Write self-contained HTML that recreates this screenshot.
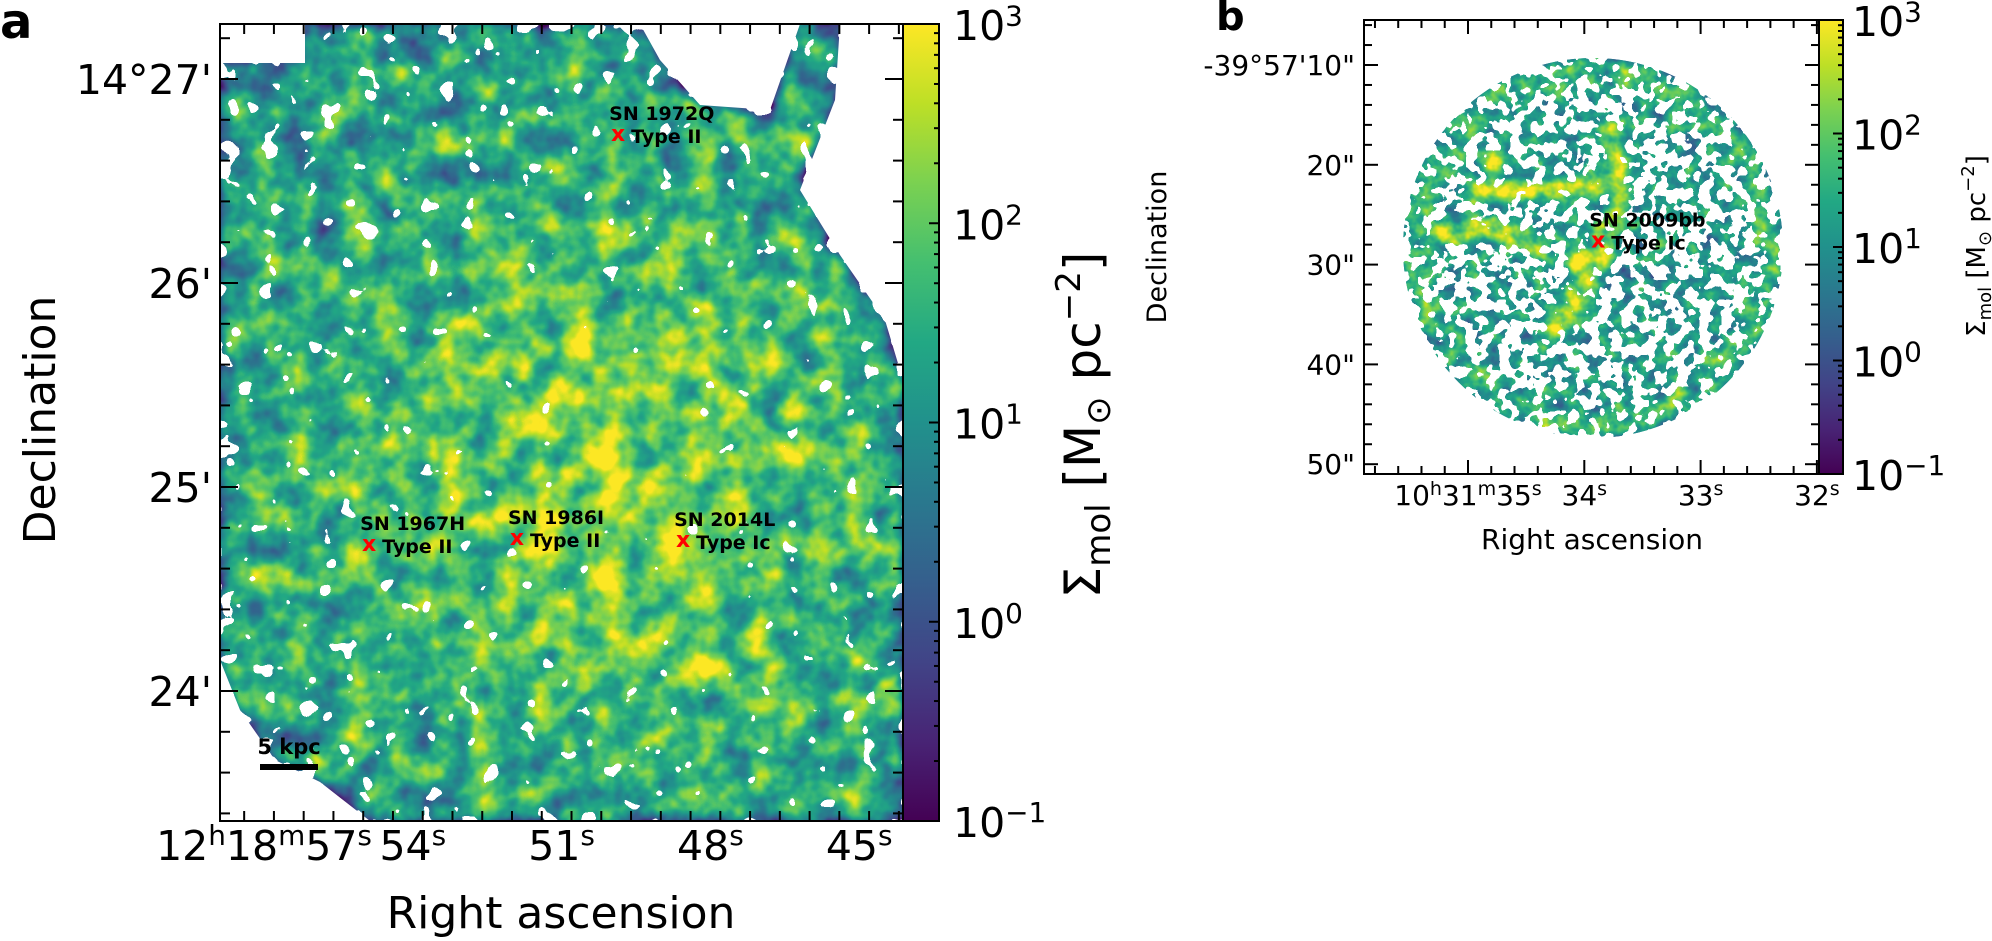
<!DOCTYPE html>
<html><head><meta charset="utf-8">
<style>
html,body{margin:0;padding:0;background:#fff;}
svg{display:block;font-family:"DejaVu Sans","Liberation Sans",sans-serif;}
.sn{font-weight:bold;font-size:19px;fill:#000;}
.mk{font-weight:bold;font-size:22px;fill:#ff0000;}
</style></head>
<body>
<svg id="fig" width="1992" height="941" viewBox="0 0 1992 941" xmlns="http://www.w3.org/2000/svg">
<defs>
  <radialGradient id="galdens" gradientUnits="userSpaceOnUse" cx="610" cy="478" r="560">
    <stop offset="0" stop-color="rgb(212,212,212)"/>
    <stop offset="0.25" stop-color="rgb(188,188,188)"/>
    <stop offset="0.6" stop-color="rgb(158,158,158)"/>
    <stop offset="1" stop-color="rgb(138,138,138)"/>
  </radialGradient>
  <linearGradient id="viridis" x1="0" y1="1" x2="0" y2="0">
    <stop offset="0" stop-color="#440154"/><stop offset="0.1" stop-color="#482475"/>
    <stop offset="0.2" stop-color="#414487"/><stop offset="0.3" stop-color="#355f8d"/>
    <stop offset="0.4" stop-color="#2a788e"/><stop offset="0.5" stop-color="#21918c"/>
    <stop offset="0.6" stop-color="#22a884"/><stop offset="0.7" stop-color="#44bf70"/>
    <stop offset="0.8" stop-color="#7ad151"/><stop offset="0.9" stop-color="#bddf26"/>
    <stop offset="1" stop-color="#fde725"/>
  </linearGradient>
  <filter id="fa" filterUnits="userSpaceOnUse" x="220" y="24" width="683" height="797" color-interpolation-filters="sRGB">
    <feGaussianBlur in="SourceGraphic" stdDeviation="6" result="d"/>
    <feTurbulence type="fractalNoise" baseFrequency="0.032" numOctaves="3" seed="4" result="t1"/>
    <feColorMatrix in="t1" type="matrix" values="1 0 0 0 0 1 0 0 0 0 1 0 0 0 0 0 0 0 0 1" result="n1"/>
    <feComposite in="n1" in2="d" operator="arithmetic" k1="0" k2="1.0" k3="1" k4="-0.5" result="v"/>
    <feColorMatrix in="v" type="matrix" values="1 0 0 0 0 1 0 0 0 0 1 0 0 0 0 0 0 0 0 1" result="v2"/>
    <feComponentTransfer in="v2" result="col">
      <feFuncR type="table" tableValues=".267 .282 .255 .208 .165 .129 .133 .267 .478 .741 .992"/>
      <feFuncG type="table" tableValues=".004 .141 .267 .373 .471 .569 .659 .749 .820 .875 .906"/>
      <feFuncB type="table" tableValues=".329 .459 .529 .553 .557 .549 .518 .439 .318 .149 .145"/>
    </feComponentTransfer>
    <feTurbulence type="fractalNoise" baseFrequency="0.05" numOctaves="2" seed="9" result="t2"/>
    <feColorMatrix in="t2" type="matrix" values="1 0 0 0 0 1 0 0 0 0 1 0 0 0 0 0 0 0 0 1" result="n2"/>
    <feComposite in="n2" in2="d" operator="arithmetic" k1="0" k2="2.5" k3="1.2" k4="-0.98" result="h"/>
    <feColorMatrix in="h" type="matrix" values="0 0 0 0 1 0 0 0 0 1 0 0 0 0 1 1 0 0 0 0" result="h2"/>
    <feComponentTransfer in="h2" result="mask"><feFuncA type="discrete" tableValues="0 1"/></feComponentTransfer>
    <feComposite in="col" in2="mask" operator="in" result="c2"/>
    <feComposite in="c2" in2="SourceAlpha" operator="in"/>
  </filter>
  <filter id="fb" filterUnits="userSpaceOnUse" x="1364" y="20" width="455" height="454" color-interpolation-filters="sRGB">
    <feGaussianBlur in="SourceGraphic" stdDeviation="5" result="d"/>
    <feTurbulence type="fractalNoise" baseFrequency="0.06" numOctaves="3" seed="7" result="t1"/>
    <feColorMatrix in="t1" type="matrix" values="1 0 0 0 0 1 0 0 0 0 1 0 0 0 0 0 0 0 0 1" result="n1"/>
    <feComposite in="n1" in2="d" operator="arithmetic" k1="0" k2="0.8" k3="0.6" k4="-0.03" result="v"/>
    <feColorMatrix in="v" type="matrix" values="1 0 0 0 0 1 0 0 0 0 1 0 0 0 0 0 0 0 0 1" result="v2"/>
    <feComponentTransfer in="v2" result="col">
      <feFuncR type="table" tableValues=".267 .282 .255 .208 .165 .129 .133 .267 .478 .741 .992"/>
      <feFuncG type="table" tableValues=".004 .141 .267 .373 .471 .569 .659 .749 .820 .875 .906"/>
      <feFuncB type="table" tableValues=".329 .459 .529 .553 .557 .549 .518 .439 .318 .149 .145"/>
    </feComponentTransfer>
    <feTurbulence type="fractalNoise" baseFrequency="0.09" numOctaves="2" seed="12" result="t2"/>
    <feColorMatrix in="t2" type="matrix" values="1 0 0 0 0 1 0 0 0 0 1 0 0 0 0 0 0 0 0 1" result="n2"/>
    <feComposite in="n2" in2="d" operator="arithmetic" k1="0" k2="2.5" k3="1" k4="-1.05" result="h"/>
    <feColorMatrix in="h" type="matrix" values="0 0 0 0 1 0 0 0 0 1 0 0 0 0 1 1 0 0 0 0" result="h2"/>
    <feComponentTransfer in="h2" result="mask"><feFuncA type="discrete" tableValues="0 1"/></feComponentTransfer>
    <feComposite in="col" in2="mask" operator="in" result="c2"/>
    <feComposite in="c2" in2="SourceAlpha" operator="in"/>
  </filter>
</defs>

<g filter="url(#fa)">
  <polygon fill="url(#galdens)" points="220,63 305,63 305,24 640,24 660,60 700,105 770,110 800,24 840,24 835,100 800,190 840,255 885,320 903,380 903,821 370,821 320,782 275,760 240,710 220,660"/>
  <g fill="none" stroke="rgb(200,200,200)" stroke-width="34" stroke-linecap="round">
    <path d="M520,560 Q470,430 580,400 Q680,380 700,470"/>
    <path d="M700,470 Q720,580 620,640"/>
    <path d="M420,430 Q560,300 740,360"/>
    <path d="M560,600 Q640,700 760,660"/>
  </g>
  <circle cx="610" cy="478" r="45" fill="rgb(220,220,220)"/>
</g>

<g filter="url(#fb)">
  <circle cx="1593" cy="248" r="190" fill="rgb(70,70,70)"/>
  <circle cx="1593" cy="248" r="176" fill="none" stroke="rgb(120,120,120)" stroke-width="28"/>
  <g fill="none" stroke="rgb(215,215,215)" stroke-width="20" stroke-linecap="round" stroke-linejoin="round">
    <path d="M1611,133 L1620,203 L1603,241 L1575,305 L1552,330"/>
    <path d="M1473,190 L1524,190 L1575,188 L1613,178"/>
    <path d="M1435,235 L1492,229 L1537,248"/>
  </g>
  <circle cx="1496" cy="163" r="13" fill="rgb(215,215,215)"/>
  <circle cx="1583" cy="262" r="16" fill="rgb(235,235,235)"/>
</g>

<rect x="903" y="24" width="36" height="797" fill="url(#viridis)"/>
<rect x="1819" y="20" width="24" height="454" fill="url(#viridis)"/>

<g id="axes" stroke="#000" stroke-width="2" fill="none"></g>
<g id="labels" fill="#000"></g>
<g id="markers"></g>

<rect x="220" y="24" width="683" height="797" fill="none" stroke="#000" stroke-width="2"/>
<rect x="903" y="24" width="36" height="797" fill="none" stroke="#000" stroke-width="2"/>
<rect x="1364" y="20" width="455" height="454" fill="none" stroke="#000" stroke-width="2"/>
<rect x="1819" y="20" width="24" height="454" fill="none" stroke="#000" stroke-width="2"/>

<text x="289" y="754" text-anchor="middle" class="sn" style="font-size:21px">5 kpc</text>
<rect x="260" y="764" width="58" height="6" fill="#000"/>

<text x="0" y="38" font-weight="bold" font-size="48">a</text>
<text x="1216" y="30" font-weight="bold" font-size="40">b</text>

<text transform="translate(55,420) rotate(-90)" text-anchor="middle" font-size="44">Declination</text>
<text x="561" y="928" text-anchor="middle" font-size="44">Right ascension</text>
<text transform="translate(1100,425) rotate(-90)" text-anchor="middle" font-size="50">Σ<tspan font-size="34" dy="10">mol</tspan><tspan dy="-10"> [M</tspan><tspan font-size="34" dy="10">⊙</tspan><tspan dy="-10"> pc</tspan><tspan font-size="34" dy="-20">−2</tspan><tspan dy="20">]</tspan></text>
<text transform="translate(1166,247) rotate(-90)" text-anchor="middle" font-size="27">Declination</text>
<text x="1592" y="549" text-anchor="middle" font-size="28">Right ascension</text>
<text transform="translate(1985,246) rotate(-90)" text-anchor="middle" font-size="26">Σ<tspan font-size="18" dy="6">mol</tspan><tspan dy="-6"> [M</tspan><tspan font-size="18" dy="6">⊙</tspan><tspan dy="-6"> pc</tspan><tspan font-size="18" dy="-11">−2</tspan><tspan dy="11">]</tspan></text>
</svg>

<script>
// ---- data ----
var aXTickSec = [57, 54, 51, 48, 45];
var aXTickLabels = [["12","h","18","m","57","s"], ["54","s"], ["51","s"], ["48","s"], ["45","s"]];
var aYTickMin = [27, 26, 25, 24];
var aYTickLabels = ["14°27'", "26'", "25'", "24'"];
var bXTickSec = [35, 34, 33, 32];
var bXTickLabels = [["10","h","31","m","35","s"], ["34","s"], ["33","s"], ["32","s"]];
var bYTickArcsec = [10, 20, 30, 40, 50];
var bYTickLabels = ["-39°57'10\"", "20\"", "30\"", "40\"", "50\""];
var cbExponents = [3, 2, 1, 0, -1];
var snNamesA = ["SN 1972Q", "SN 1967H", "SN 1986I", "SN 2014L"];
var snTypesA = ["Type II", "Type II", "Type II", "Type Ic"];
var snRaA = [49.86, 54.88, 51.90, 48.55];
var snDecA = [26.73, 24.72, 24.75, 24.74];
var snNamesB = ["SN 2009bb"];
var snTypesB = ["Type Ic"];
var snRaB = [33.88];
var snDecB = [27.6];

function axX(s){ return 264 + (57 - s) * 49.6; }
function ayY(m){ return 79 + (27 - m) * 204; }
function bxX(s){ return 1468 + (35 - s) * 116.3; }
function byY(a){ return 65 + (a - 10) * 9.98; }
function cbA(e){ return 24 + (3 - e) * 199.25; }
function cbB(e){ return 20 + (3 - e) * 113.5; }

var NS = "http://www.w3.org/2000/svg";
var axes = document.getElementById("axes");
var labels = document.getElementById("labels");
var markers = document.getElementById("markers");

function line(x1,y1,x2,y2,name){
  var l = document.createElementNS(NS,"line");
  l.setAttribute("x1",x1); l.setAttribute("y1",y1); l.setAttribute("x2",x2); l.setAttribute("y2",y2);
  
  
  axes.appendChild(l);
}
function txt(x,y,str,size,anchor,name){
  var t = document.createElementNS(NS,"text");
  t.setAttribute("x",x); t.setAttribute("y",y); t.setAttribute("font-size",size);
  t.setAttribute("text-anchor",anchor);
  t.textContent = str;
  
  
  labels.appendChild(t);
}
function supText(x,y,parts,size,anchor,name){
  var t = document.createElementNS(NS,"text");
  t.setAttribute("x",x); t.setAttribute("y",y); t.setAttribute("font-size",size);
  t.setAttribute("text-anchor",anchor);
  
  
  for (var i=0;i<parts.length;i++){
    var sp = document.createElementNS(NS,"tspan");
    sp.textContent = parts[i];
    if (i%2===1){ sp.setAttribute("font-size", size*0.68); sp.setAttribute("dy", -size*0.36); }
    else if (i>0){ sp.setAttribute("dy", size*0.36); }
    t.appendChild(sp);
  }
  labels.appendChild(t);
}

for (var s=58; s>=43; s-=0.6){
  var x = axX(s); if (x<221||x>902) continue;
  var major = Math.abs(s - Math.round(s/3)*3) < 0.01;
  var L = major ? 18 : 10;
  line(x,821,x,821-L,"panel-a-x-tick");
  line(x,24,x,24+L,"panel-a-x-tick-top");
}
for (var i=0;i<aXTickSec.length;i++) supText(axX(aXTickSec[i]), 860, aXTickLabels[i], 41, "middle", "panel-a-x-tick-label");
for (var m=28; m>=23; m-=0.2){
  var y = ayY(m); if (y<25||y>820) continue;
  var major = Math.abs(m - Math.round(m)) < 0.01;
  var L = major ? 18 : 10;
  line(220,y,220+L,y,"panel-a-y-tick");
  line(903,y,903-L,y,"panel-a-y-tick-right");
}
for (var i=0;i<aYTickMin.length;i++) txt(212, ayY(aYTickMin[i])+15, aYTickLabels[i], 41, "end", "panel-a-y-tick-label");

for (var s=36; s>=31.5; s-=0.2){
  var x = bxX(s); if (x<1365||x>1818) continue;
  var major = Math.abs(s - Math.round(s)) < 0.01;
  var L = major ? 14 : 8;
  line(x,474,x,474-L,"panel-b-x-tick");
  line(x,20,x,20+L,"panel-b-x-tick-top");
}
for (var i=0;i<bXTickSec.length;i++) supText(bxX(bXTickSec[i]), 505, bXTickLabels[i], 28, "middle", "panel-b-x-tick-label");
for (var a=4; a<=52; a+=2){
  var y = byY(a); if (y<21||y>473) continue;
  var major = a%10===0;
  var L = major ? 14 : 8;
  line(1364,y,1364+L,y,"panel-b-y-tick");
  line(1819,y,1819-L,y,"panel-b-y-tick-right");
}
for (var i=0;i<bYTickArcsec.length;i++) txt(1355, byY(bYTickArcsec[i])+10, bYTickLabels[i], 28, "end", "panel-b-y-tick-label");

for (var e=-1; e<=3; e++){
  line(939,cbA(e),929,cbA(e),"colorbar-a-major-tick");
  line(1843,cbB(e),1833,cbB(e),"colorbar-b-major-tick");
  if (e<3) for (var k=2;k<=9;k++){
    var ee = e + Math.log10(k);
    line(939,cbA(ee),934,cbA(ee),"colorbar-a-minor-tick");
    line(1843,cbB(ee),1838,cbB(ee),"colorbar-b-minor-tick");
  }
}
for (var i=0;i<cbExponents.length;i++){
  var ex = cbExponents[i] < 0 ? "−" + Math.abs(cbExponents[i]) : String(cbExponents[i]);
  supText(953, cbA(cbExponents[i])+16, ["10", ex], 41, "start", "colorbar-a-tick-label");
  supText(1852, cbB(cbExponents[i])+16, ["10", ex], 41, "start", "colorbar-b-tick-label");
}

function sn(x,y,name,type,key){
  var m = document.createElementNS(NS,"text");
  m.setAttribute("x",x); m.setAttribute("y",y+7); m.setAttribute("text-anchor","middle"); m.setAttribute("class","mk");
  m.textContent = "x";
  
  
  markers.appendChild(m);
  var n = document.createElementNS(NS,"text");
  n.setAttribute("x",x-9); n.setAttribute("y",y-14); n.setAttribute("class","sn");
  n.textContent = name;
  
  
  markers.appendChild(n);
  var t = document.createElementNS(NS,"text");
  t.setAttribute("x",x+13); t.setAttribute("y",y+9); t.setAttribute("class","sn");
  t.textContent = type;
  
  
  markers.appendChild(t);
}
for (var i=0;i<snNamesA.length;i++) sn(axX(snRaA[i]), ayY(snDecA[i]), snNamesA[i], snTypesA[i], "sn-a-" + i);
for (var i=0;i<snNamesB.length;i++) sn(bxX(snRaB[i]), byY(snDecB[i]), snNamesB[i], snTypesB[i], "sn-b-" + i);
</script>
</body></html>
